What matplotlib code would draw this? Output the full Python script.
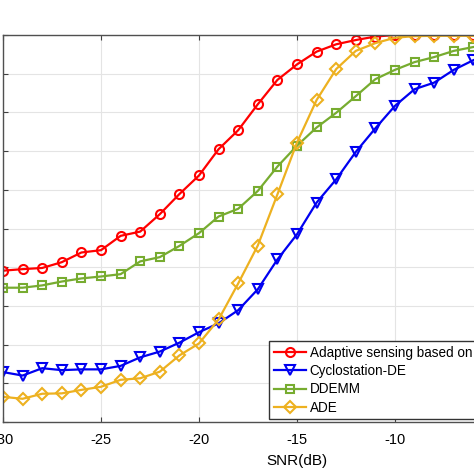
import matplotlib
matplotlib.use("Agg")
import matplotlib.pyplot as plt

snr = [-30, -29, -28, -27, -26, -25, -24, -23, -22, -21, -20, -19, -18, -17, -16,
       -15, -14, -13, -12, -11, -10, -9, -8, -7, -6, -5]

pd_adaptive = [0.391, 0.395, 0.398, 0.413, 0.438, 0.444, 0.481, 0.492, 0.537, 0.589,
               0.637, 0.705, 0.754, 0.821, 0.884, 0.924, 0.957, 0.976, 0.987, 0.996,
               1.0, 1.0, 1.0, 1.0, 1.0, 1.0]
pd_cyclo = [0.129, 0.120, 0.139, 0.134, 0.136, 0.136, 0.145, 0.167, 0.182, 0.205,
            0.232, 0.255, 0.289, 0.343, 0.420, 0.485, 0.567, 0.627, 0.698, 0.759,
            0.817, 0.860, 0.877, 0.910, 0.935, 0.955]
pd_ddemm = [0.347, 0.347, 0.353, 0.363, 0.371, 0.376, 0.382, 0.415, 0.426, 0.455,
            0.488, 0.531, 0.551, 0.597, 0.660, 0.714, 0.761, 0.799, 0.842, 0.886,
            0.910, 0.930, 0.943, 0.959, 0.969, 0.975]
pd_ade = [0.065, 0.060, 0.073, 0.074, 0.083, 0.091, 0.109, 0.113, 0.130, 0.172,
          0.203, 0.265, 0.358, 0.456, 0.588, 0.722, 0.832, 0.912, 0.959, 0.979,
          0.993, 0.997, 0.998, 0.998, 0.998, 0.998]

labels = ["Adaptive sensing based on DE", "Cyclostation-DE", "DDEMM", "ADE"]
xticks = [-30, -25, -20, -15, -10]
yticks = [0.0, 0.1, 0.2, 0.3, 0.4, 0.5, 0.6, 0.7, 0.8, 0.9, 1.0]

plt.rcParams['font.family'] = ['Liberation Sans', 'DejaVu Sans']

W = 474.0
fig = plt.figure(figsize=(4.74, 4.74), dpi=100)
px = 19.6  # pixels per dB
ax = fig.add_axes([3 / W, 52 / W, 30 * px / W, 387 / W])

series = [
    (pd_adaptive, '#FF0000', 'o', 6.5),
    (pd_cyclo, '#0000F0', 'v', 7.5),
    (pd_ddemm, '#77AC30', 's', 5.5),
    (pd_ade, '#EDB120', 'D', 6.0),
]
for (vals, col, mk, ms), lab in zip(series, labels):
    ax.plot(snr, vals, color=col, marker=mk, markersize=ms, markerfacecolor='none',
            markeredgewidth=1.5, linewidth=1.6, label=lab, clip_on=True)

ax.set_xlim(-30, 0)
ax.set_ylim(0, 1)
ax.set_xticks(xticks)
ax.set_xticklabels([str(t) for t in xticks], fontsize=10.5)
ax.set_yticks(yticks)
ax.tick_params(axis='both', direction='in', length=3.5, width=0.8, color='#404040',
               top=True, right=True, labelleft=False, pad=8)
ax.grid(True, color='#E4E4E4', linewidth=0.8)
ax.set_axisbelow(True)
for s in ax.spines.values():
    s.set_color('#505050')
    s.set_linewidth(1.0)
ax.set_xlabel('SNR(dB)', fontsize=11, labelpad=5)

leg = ax.legend(loc='upper left', bbox_to_anchor=(269 / W, 1 - 341 / W),
                bbox_transform=fig.transFigure, fontsize=9.75, frameon=True,
                fancybox=False, edgecolor='#333333', framealpha=1.0,
                handlelength=2.4, handletextpad=0.25, labelspacing=0.32,
                borderpad=0.35, borderaxespad=0)
leg.get_frame().set_linewidth(1.0)

fig.savefig('out.png', dpi=100)
